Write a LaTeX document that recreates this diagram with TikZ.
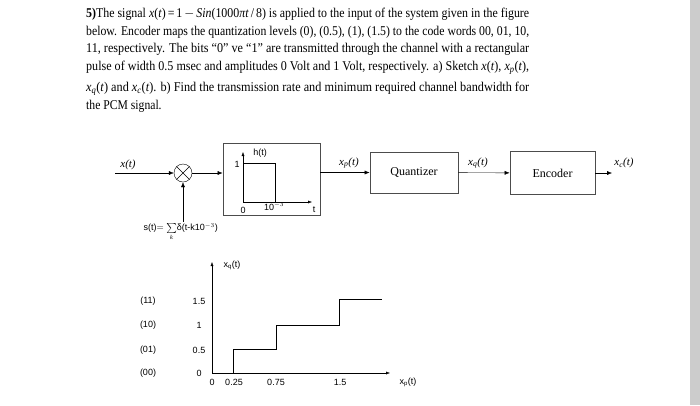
\documentclass[tikz,border=0pt]{standalone}
\usepackage{graphicx}
\usepackage{fontspec}
\setmainfont{Liberation Serif}
\usetikzlibrary{arrows.meta}
\newcommand{\qline}[1]{\resizebox{443pt}{\height}{#1}}
\begin{document}
\begin{tikzpicture}[x=1pt,y=-1pt,
  blk/.style={draw,thick,minimum width=0pt},
  arr/.style={-{Latex[length=5pt,width=4pt]}},
  hand/.style={font=\fontspec{Liberation Sans}\fontsize{9}{10}\selectfont},
  lab/.style={font=\itshape\fontsize{11}{12}\selectfont},
  tl/.style={anchor=base west,inner sep=0pt,font=\fontsize{13.4}{15}\selectfont}]
\useasboundingbox (0,0) rectangle (700,405);
\fill[white] (0,0) rectangle (700,405);
\fill[gray!40] (690,0) rectangle (700,405);
\node[tl] (l1) at (86,17) {\qline{\textbf{5)}The signal \textit{x}(\textit{t})\,=\,1\,$-$\,\textit{Sin}(1000\textit{πt}\,/\,8) is applied to the input of the system given in the figure}};
\node[tl] (l2) at (86,35) {\qline{below. Encoder maps the quantization levels (0), (0.5), (1), (1.5) to the code words 00, 01, 10,}};
\node[tl] (l3) at (86,52) {\qline{11, respectively. The bits ``0'' ve ``1'' are transmitted through the channel with a rectangular}};
\node[tl] (l4) at (86,70) {\qline{pulse of width 0.5 msec and amplitudes 0 Volt and 1 Volt, respectively. a) Sketch \textit{x}(\textit{t}), \textit{x}\textsubscript{\textit{p}}(\textit{t}),}};
\node[tl] (l5) at (86,91) {\qline{\textit{x}\textsubscript{\textit{q}}(\textit{t}) and \textit{x}\textsubscript{\textit{c}}(\textit{t}). b) Find the transmission rate and minimum required channel bandwidth for}};
\node[tl] (l6) at (86,109) {\scalebox{0.87}[1]{the PCM signal.}};
% block diagram
\coordinate (in) at (115,173);
\node[lab] (xt) at (128,165) {x(t)};
\node[draw,circle,minimum size=18pt,inner sep=0pt] (mul) at (183,173) {};
\draw (mul.north west) -- (mul.south east) (mul.north east) -- (mul.south west);
\draw[arr] (in) -- (mul);
\coordinate (sin) at (183,222);
\draw[arr] (sin) -- (mul);
\node[hand,anchor=west] (st) at (140,232) {s(t)$=\sum\limits_{k}$δ(t-k10$^{-3}$)};
\node[blk,draw=black!70,minimum width=97pt,minimum height=72pt] (h) at (271.5,179) {};
\draw[arr] (mul) -- (h.west|-mul);
\draw[-{Latex[length=4pt,width=3pt]}] (243,202) -- (243,152);
\draw[-{Latex[length=4pt,width=3pt]}] (243,202) -- (312,202);
\draw (243,163) -- (275,163) -- (275,202);
\node[hand] (ht) at (260,153) {h(t)};
\node[hand] (one) at (237,164) {1};
\node[hand] (zero) at (243,210) {0};
\node[hand] (ms) at (274,207) {10$^{-3}$};
\node[hand] (tt) at (314,210) {t};
\node[blk,draw=black!70,minimum width=88pt,minimum height=41pt] (q) at (414,172.5) {\fontsize{12}{13}\selectfont Quantizer};
\draw[arr] (h.east|-q) -- (q);
\node[lab] (xp) at (349,163) {x\textsubscript{p}(t)};
\node[blk,draw=black!70,minimum width=85pt,minimum height=43pt] (e) at (552.5,173) {\fontsize{12}{13}\selectfont Encoder};
\draw[arr] (q) -- (e);
\node[lab] (xq) at (478,163) {x\textsubscript{q}(t)};
\coordinate (out) at (612,173);
\draw[arr] (e) -- (out);
\node[lab] (xc) at (624,163) {x\textsubscript{c}(t)};
% staircase graph
\coordinate (o) at (212,373);
\draw[-{Latex[length=4pt,width=3pt]}] (o) -- (212,262);
\draw[-{Latex[length=4pt,width=3pt]}] (o) -- (390,373);
\draw (233,373) -- (233,349) -- (276,349) -- (276,325) -- (339,325) -- (339,299) -- (382,299);
\node[hand] (xqa) at (232,265) {x\textsubscript{q}(t)};
\node[hand] (xpa) at (408,382) {x\textsubscript{p}(t)};
\foreach \v/\c/\y in {0/(00)/373,0.5/(01)/350,1/(10)/325,1.5/(11)/301}{
  \node[hand] at (199,\y) {\v};
  \node[hand] at (148,\y) {\c};}
\foreach \v/\x in {0/212,0.25/234,0.75/276,1.5/340}
  \node[hand] at (\x,382) {\v};
\end{tikzpicture}
\end{document}
